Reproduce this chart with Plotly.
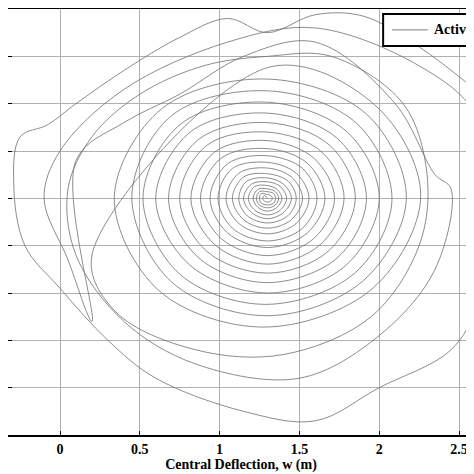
import plotly.graph_objects as go

# outer, irregular transient loops (w in m, velocity in grid units)
outer_w = [2.60, 2.25, 1.90, 1.60, 1.30, 1.05, 0.75, 0.40, 0.10, -0.08, -0.25, -0.29, -0.22, 0.00,
           0.30, 0.60, 1.15, 1.60, 2.00, 2.45, 2.62, 2.70, 2.60, 2.25, 1.60, 1.05, 0.40, 0.00, -0.10,
           0.05, 0.20, 0.10, 0.40, 0.75, 1.15, 1.60, 2.10, 2.35, 2.45, 2.35, 2.00, 1.50, 0.85, 0.40,
           0.10, 0.05, 0.20, 0.50, 0.90, 1.30, 1.70, 2.15, 2.30, 2.25, 1.95, 1.40, 0.85, 0.35, 0.20]
outer_v = [2.30, 3.20, 3.85, 3.88, 3.50, 3.80, 3.40, 2.70, 2.00, 1.55, 1.30, 0.30, -1.00, -1.90,
           -3.00, -3.80, -4.50, -4.70, -4.00, -3.20, -2.20, 0.00, 1.80, 2.80, 3.60, 3.30, 2.30, 1.00, 0.00,
           -1.30, -2.60, 0.80, 1.60, 2.20, 3.00, 3.30, 2.00, 0.50, 0.20, -1.50, -2.90, -3.80, -3.50, -2.60,
           -1.20, 0.20, 1.30, 2.20, 2.80, 3.00, 3.00, 2.00, 0.50, -1.00, -2.50, -3.30, -3.20, -2.40, -1.20]

# decaying loops around the equilibrium
inner_w = [1.32, 1.98, 2.26, 1.96, 1.28, 0.62, 0.34, 0.64,
           1.30, 1.92, 2.17, 1.90, 1.30, 0.70, 0.45, 0.70,
           1.31, 1.86, 2.08, 1.85, 1.29, 0.75, 0.52, 0.76,
           1.30, 1.80, 2.00, 1.79, 1.30, 0.81, 0.60, 0.82,
           1.30, 1.74, 1.92, 1.74, 1.30, 0.87, 0.68, 0.87,
           1.30, 1.69, 1.85, 1.68, 1.30, 0.92, 0.75, 0.92,
           1.30, 1.64, 1.78, 1.63, 1.30, 0.97, 0.82, 0.97,
           1.30, 1.59, 1.72, 1.59, 1.30, 1.01, 0.88, 1.01,
           1.30, 1.55, 1.66, 1.55, 1.30, 1.05, 0.94, 1.05,
           1.30, 1.52, 1.61, 1.52, 1.30, 1.08, 0.99, 1.08,
           1.30, 1.48, 1.56, 1.48, 1.30, 1.12, 1.04, 1.12,
           1.30, 1.45, 1.52, 1.45, 1.30, 1.15, 1.08, 1.15,
           1.30, 1.43, 1.48, 1.43, 1.30, 1.17, 1.12, 1.17,
           1.30, 1.40, 1.45, 1.40, 1.30, 1.20, 1.15, 1.20,
           1.30, 1.38, 1.42, 1.38, 1.30, 1.22, 1.18, 1.22,
           1.30, 1.36, 1.39, 1.36, 1.30, 1.24, 1.21, 1.24,
           1.30, 1.35, 1.37, 1.35, 1.30, 1.25, 1.23, 1.25,
           1.30, 1.34, 1.35, 1.34, 1.30, 1.26, 1.25, 1.26,
           1.30, 1.32, 1.33, 1.32, 1.30, 1.28, 1.27, 1.28, 1.30]
inner_v = [2.78, 1.95, 0.05, -1.90, -2.72, -1.95, 0.02, 1.90,
           2.52, 1.78, 0.00, -1.74, -2.48, -1.77, 0.03, 1.75,
           2.27, 1.58, -0.02, -1.57, -2.24, -1.60, 0.02, 1.58,
           2.03, 1.40, 0.00, -1.42, -2.00, -1.40, 0.01, 1.41,
           1.80, 1.26, 0.00, -1.25, -1.78, -1.26, 0.00, 1.25,
           1.60, 1.12, 0.00, -1.12, -1.58, -1.12, 0.00, 1.12,
           1.40, 0.98, 0.00, -0.98, -1.39, -0.98, 0.00, 0.98,
           1.22, 0.85, 0.00, -0.85, -1.21, -0.85, 0.00, 0.85,
           1.05, 0.74, 0.00, -0.73, -1.04, -0.73, 0.00, 0.73,
           0.90, 0.63, 0.00, -0.63, -0.90, -0.63, 0.00, 0.63,
           0.76, 0.53, 0.00, -0.53, -0.75, -0.53, 0.00, 0.53,
           0.64, 0.45, 0.00, -0.45, -0.63, -0.45, 0.00, 0.45,
           0.52, 0.36, 0.00, -0.36, -0.52, -0.36, 0.00, 0.36,
           0.43, 0.30, 0.00, -0.30, -0.43, -0.30, 0.00, 0.30,
           0.35, 0.25, 0.00, -0.25, -0.35, -0.25, 0.00, 0.25,
           0.27, 0.19, 0.00, -0.19, -0.27, -0.19, 0.00, 0.19,
           0.20, 0.14, 0.00, -0.14, -0.20, -0.14, 0.00, 0.14,
           0.14, 0.10, 0.00, -0.10, -0.14, -0.10, 0.00, 0.10,
           0.08, 0.06, 0.00, -0.06, -0.08, -0.06, 0.00, 0.06, 0.00]

x_ticks = [0, 0.5, 1, 1.5, 2, 2.5]
y_ticks = [-5, -4, -3, -2, -1, 0, 1, 2, 3, 4]
series_name = "Active Control"

font = dict(family="Liberation Serif", color="black")

fig = go.Figure()
fig.add_trace(go.Scatter(
    x=outer_w + inner_w, y=outer_v + inner_v, mode="lines",
    line=dict(color="#6e6e6e", width=0.8, shape="spline", smoothing=1.0),
    name=series_name, showlegend=False,
))

axis_style = dict(showline=True, linecolor="black", linewidth=2, mirror=True,
                  showgrid=True, gridcolor="#b0b0b0", gridwidth=1, automargin=False,
                  ticks="inside", ticklen=4, tickcolor="black", zeroline=False)
fig.update_xaxes(range=[-0.326, 2.594], tickvals=x_ticks,
                 ticktext=["<b>%g</b>" % t for t in x_ticks],
                 tickfont=dict(size=14, **font), title=dict(text="<b>Central Deflection, w (m)</b>",
                 font=dict(size=14, **font), standoff=2), **axis_style)
fig.update_yaxes(range=[-5, 4], tickvals=y_ticks, showticklabels=False, **axis_style)

# legend box drawn by hand so it can run off the right edge like the original
fig.add_shape(type="rect", xref="paper", yref="paper", x0=0.805, x1=1.05, y0=0.913, y1=0.988,
              line=dict(color="black", width=2), fillcolor="white", layer="above")
fig.add_shape(type="line", xref="paper", yref="paper", x0=0.824, x1=0.901, y0=0.951, y1=0.951,
              line=dict(color="#7a7a7a", width=1), layer="above")
fig.add_annotation(xref="paper", yref="paper", x=0.910, y=0.951, xanchor="left", yanchor="middle",
                   text="<b>" + series_name + "</b>", showarrow=False, font=dict(size=14, **font))

fig.update_layout(
    width=466, height=466,
    margin=dict(l=0, r=0, t=1, b=39),
    plot_bgcolor="white", paper_bgcolor="white",
    font=font,
)

fig.write_html("out.html")
